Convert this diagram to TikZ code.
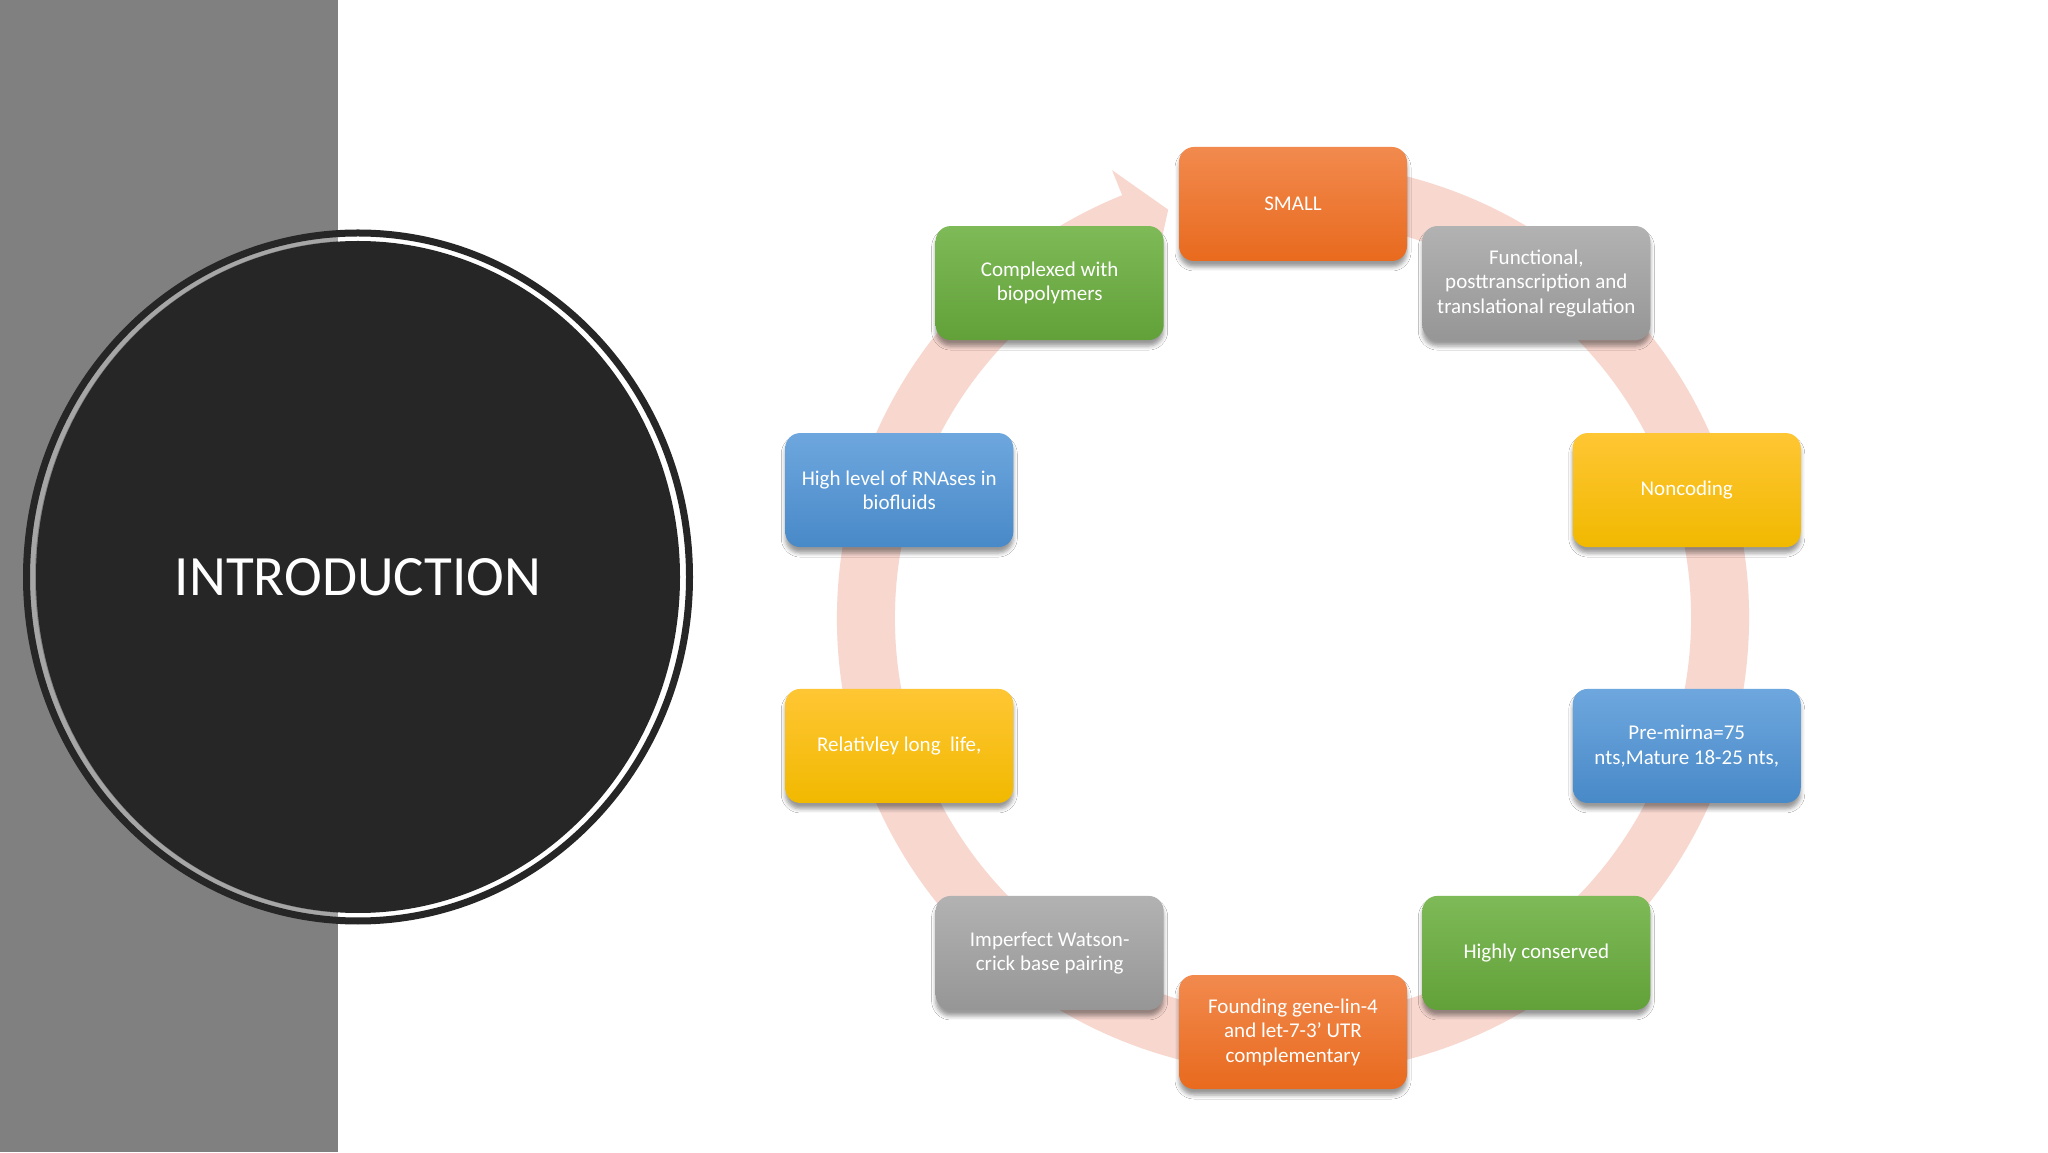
\documentclass[tikz,border=0pt]{standalone}
\usepackage{fontspec}
\newfontfamily\carlito{Carlito}
\usetikzlibrary{shadows.blur}
\newcommand\boxfont{\carlito\fontsize{21}{24.5}\selectfont}
\newcommand\titlefont{\carlito\fontsize{57}{64}\selectfont}
\definecolor{panelgray}{RGB}{128,128,128}
\definecolor{discdark}{RGB}{38,38,38}
\definecolor{ringpink}{RGB}{248,215,207}
\definecolor{orTop}{RGB}{242,138,78}
\definecolor{orBot}{RGB}{232,106,30}
\definecolor{grTop}{RGB}{178,178,178}
\definecolor{grBot}{RGB}{150,150,150}
\definecolor{gnTop}{RGB}{126,187,88}
\definecolor{gnBot}{RGB}{98,160,57}
\definecolor{blTop}{RGB}{110,167,222}
\definecolor{blBot}{RGB}{72,137,200}
\definecolor{ylTop}{RGB}{255,198,52}
\definecolor{ylBot}{RGB}{241,185,0}
\tikzset{
  box/.style={rounded corners=15pt, minimum width=228pt, minimum height=114pt,
    inner sep=0pt, align=center, text=white, font=\boxfont,
    blur shadow={shadow xshift=0pt, shadow yshift=-6pt, shadow blur radius=4pt, shadow opacity=40}},
  orangebox/.style={box, top color=orTop, bottom color=orBot},
  graybox/.style={box, top color=grTop, bottom color=grBot},
  greenbox/.style={box, top color=gnTop, bottom color=gnBot},
  bluebox/.style={box, top color=blTop, bottom color=blBot},
  yellowbox/.style={box, top color=ylTop, bottom color=ylBot},
}
\begin{document}
\begin{tikzpicture}[x=1pt,y=1pt]
\useasboundingbox (0,0) rectangle (2048,1152);
\fill[white] (0,0) rectangle (2048,1152);
\fill[panelgray] (0,0) rectangle (338,1152);
% title disc
\coordinate (D) at (358,575);
\fill[discdark] (D) ellipse [x radius=322, y radius=336];
\draw[white, opacity=0.3, line width=5pt] (D) ellipse [x radius=325.5, y radius=339];
\draw[discdark, line width=7pt] (D) ellipse [x radius=331.5, y radius=344];
\node[font=\titlefont, text=white] (title) at (D) {INTRODUCTION};
% cycle arrow
\coordinate (C) at (1293,534);
\begin{scope}[shift={(C)}]
\fill[ringpink] (80:456) arc[start angle=80, end angle=-248, radius=456]
  -- (112:483) -- (107:427) -- (112:371) -- (112:398)
  arc[start angle=-248, end angle=80, radius=398] -- cycle;
\end{scope}
% boxes
\begin{scope}[shift={(C)}]
\node[orangebox] (small) at (90:414) {SMALL};
\node[graybox] (func) at (54:414) {Functional,\\posttranscription and\\translational regulation};
\node[yellowbox] (nonc) at (18:414) {Noncoding};
\node[bluebox] (pre) at (-18:414) {Pre-mirna=75\\nts,Mature 18-25 nts,};
\node[greenbox] (cons) at (-54:414) {Highly conserved};
\node[orangebox] (found) at (-90:414) {Founding gene-lin-4\\and let-7-3’ UTR\\complementary};
\node[graybox] (imp) at (-126:414) {Imperfect Watson-\\crick base pairing};
\node[yellowbox] (rel) at (-162:414) {Relativley long\ \ life,};
\node[bluebox] (high) at (162:414) {High level of RNAses in\\biofluids};
\node[greenbox] (compl) at (126:414) {Complexed with\\biopolymers};
\end{scope}
\end{tikzpicture}
\end{document}
